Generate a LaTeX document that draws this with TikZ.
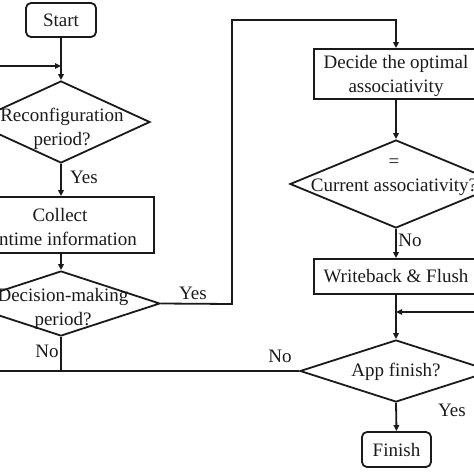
\documentclass[tikz,border=0pt]{standalone}
\usepackage{fontspec}
\setmainfont{Liberation Serif}
\usetikzlibrary{shapes.geometric,arrows.meta}
\definecolor{ink}{HTML}{1A1A1A}
\begin{document}
\begin{tikzpicture}[x=1pt,y=-1pt,
  every node/.style={font=\fontsize{19}{24}\selectfont, text=ink},
  line/.style={draw=ink, line width=1.8pt},
  arr/.style={line, -{Triangle[length=6pt,width=5.5pt]}},
  box/.style={draw=ink, line width=1.8pt, rectangle, inner sep=0pt},
  rbox/.style={box, rounded corners=5pt},
  dia/.style={draw=ink, line width=1.8pt, diamond, inner sep=0pt},
  txt/.style={align=center, inner sep=0pt}]
\clip (0,0) rectangle (474,474);
% nodes
\node[rbox, minimum width=70pt, minimum height=34pt] (start) at (61,20) {Start};
\node[dia, minimum width=178pt, minimum height=82pt] (d1) at (61,122) {};
\node[txt] (d1t) at (62,129) {Reconfiguration\\period?};
\node[txt] (yes1) at (84,177) {Yes};
\node[box, minimum width=186pt, minimum height=56pt] (collect) at (61,225) {};
\node[txt] (collectt) at (60,227) {Collect\\runtime information};
\node[dia, minimum width=198pt, minimum height=65pt] (d2) at (61,303.5) {};
\node[txt] (d2t) at (63,309) {Decision-making\\period?};
\node[txt] (yes2) at (193,293) {Yes};
\node[txt] (no2) at (47,351) {No};
\node[box, minimum width=164pt, minimum height=50pt] (decide) at (396,74) {};
\node[txt] (decidet) at (396,76) {Decide the optimal\\associativity};
\node[dia, minimum width=212pt, minimum height=88pt] (d3) at (396,184) {};
\node[txt] (d3t) at (394,177) {=\\Current associativity?};
\node[txt] (no3) at (410,240) {No};
\node[box, minimum width=164pt, minimum height=35pt] (wb) at (396,276.5) {Writeback \& Flush};
\node[dia, minimum width=192pt, minimum height=62pt] (d4) at (396,371) {};
\node[txt] (d4t) at (396,372) {App finish?};
\node[txt] (no4) at (280,356) {No};
\node[txt] (yes4) at (452,410) {Yes};
\node[rbox, minimum width=69pt, minimum height=35pt] (finish) at (396.5,449.5) {Finish};
% coordinates
\coordinate (inL) at (0,66);
\coordinate (j1) at (61,66);
\coordinate (yr) at (232,304);
\coordinate (yt) at (232,20);
\coordinate (dt) at (396,20);
\coordinate (inR) at (474,312);
\coordinate (j4) at (396,312);
\coordinate (bL) at (0,371);
\coordinate (b2) at (61,371);
% connectors
\draw[arr] (start.south) -- (d1.north);
\draw[arr] (inL) -- (j1);
\draw[arr] (d1.south) -- (collect.north);
\draw[arr] (collect.south) -- (d2.north);
\draw[arr] (d2.east) -- (yr) -- (yt) -- (dt) -- (decide.north);
\draw[arr] (decide.south) -- (d3.north);
\draw[arr] (d3.south) -- (wb.north);
\draw[arr] (wb.south) -- (d4.north);
\draw[arr] (inR) -- (j4);
\draw[line] (d4.west) -- (bL);
\draw[line] (d2.south) -- (b2);
\draw[arr] (d4.south) -- (finish.north);
\end{tikzpicture}
\end{document}
